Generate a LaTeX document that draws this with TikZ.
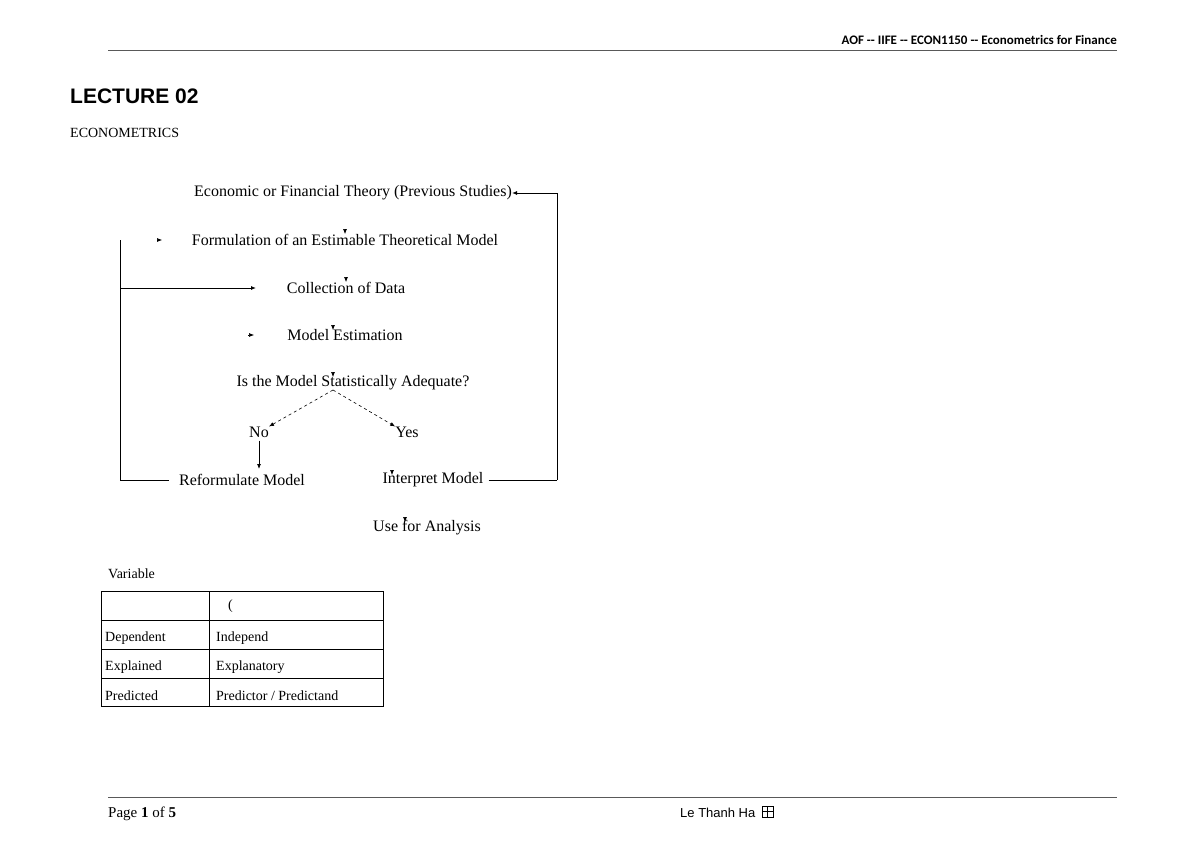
\documentclass[tikz,border=0pt]{standalone}
\usepackage{fontspec}
\setmainfont{Liberation Serif}
\newfontfamily\arialf{Liberation Sans}
\newfontfamily\calf{Carlito}
\usetikzlibrary{arrows.meta}
\tikzset{
 ft/.style={font=\fontsize{16}{18}\selectfont, inner sep=0pt},
 tb/.style={font=\fontsize{14}{16}\selectfont, inner sep=0pt, anchor=west},
 ln/.style={line width=0.9pt},
 arr/.style={ln,-{Latex[length=5pt,width=4pt]}},
 tip/.style={-{Latex[length=5pt,width=4pt]}, line width=0.6pt},
}
\begin{document}
\begin{tikzpicture}[x=1pt,y=-1pt]
\useasboundingbox (0,0) rectangle (1200,848);
\fill[white] (0,0) rectangle (1200,848);
% header
\coordinate (h1) at (108,50); \coordinate (h2) at (1117,50);
\draw[line width=0.8pt,gray!70!black] (h1) -- (h2);
\node[anchor=base east, inner sep=0pt, font=\calf\bfseries\fontsize{13}{15}\selectfont] (hdr) at (1117,45) {AOF -- IIFE -- ECON1150 -- Econometrics for Finance};
\node[anchor=base west, inner sep=0pt, font=\arialf\bfseries\fontsize{21}{24}\selectfont] (lec) at (70,104) {LECTURE 02};
\node[anchor=base west, inner sep=0pt, font=\fontsize{14}{16}\selectfont] (eco) at (70,138) {ECONOMETRICS};
% flowchart
\node[ft] (t1) at (353,193) {Economic or Financial Theory (Previous Studies)};
\node[ft] (t2) at (345,240) {Formulation of an Estimable Theoretical Model};
\node[ft] (t3) at (346,288) {Collection of Data};
\node[ft] (t4) at (345,335) {Model Estimation};
\node[ft] (t5) at (353,383) {Is the Model Statistically Adequate?};
\node[ft] (no) at (259,432) {No};
\node[ft] (yes) at (407,432) {Yes};
\node[ft] (ref) at (242,480) {Reformulate Model};
\node[ft] (int) at (433,480) {Interpret Model};
\node[ft] (use) at (427,528) {Use for Analysis};
% right loop
\coordinate (r1) at (557,480); \coordinate (r2) at (557,193);
\draw[ln] (int.east) ++(5,0) coordinate (ie) -- (r1);
\draw[arr] (r1) -- (r2) -- (t1.east);
% left loop
\coordinate (l1) at (120,240); \coordinate (l2) at (120,480); \coordinate (l3) at (120,288);
\coordinate (c3) at (256,288);
\draw[ln] (l1) -- (l2) -- ([xshift=-10pt]ref.west);
\draw[arr] (l3) -- (c3);
% tiny tips
\coordinate (a1) at (157,240); \coordinate (a2) at (162,240);
\draw[tip] (a1) -- (a2);
\coordinate (b1) at (248,335); \coordinate (b2) at (254,335);
\draw[tip] (b1) -- (b2);
\foreach \x/\y in {345/234, 346/282, 333/330, 333/377, 392/475, 405/522}{
  \coordinate (p) at (\x,\y-5); \coordinate (q) at (\x,\y);
  \draw[tip] (p) -- (q);
}
% decision
\coordinate (d0) at (333,390);
\draw[arr,dashed,line width=0.6pt] (d0) -- (no.north east);
\draw[arr,dashed,line width=0.6pt] (d0) -- (yes.north west);
\draw[arr] ([yshift=-3pt]no.south) -- ([yshift=5pt]no.south |- ref.north);
% table
\node[tb] (var) at (108,574) {Variable};
\draw[line width=1pt] (101,591) rectangle (383,706);
\foreach \y in {620,649,678}{\draw[line width=0.8pt] (101,\y) -- (383,\y);}
\draw[line width=0.8pt] (209,591) -- (209,706);
\node[tb] (par) at (228,606) {(};
\node[tb] (c11) at (105,638) {Dependent};
\node[tb] (c12) at (216,638) {Independ};
\node[tb] (c21) at (105,667) {Explained};
\node[tb] (c22) at (216,667) {Explanatory};
\node[tb] (c31) at (105,696) {Predicted};
\node[tb] (c32) at (216,696) {Predictor / Predictand};
% footer
\coordinate (f1) at (108,797); \coordinate (f2) at (1117,797);
\draw[line width=0.8pt,gray!70!black] (f1) -- (f2);
\node[anchor=base west, inner sep=0pt, font=\fontsize{15}{17}\selectfont] (pg) at (108,817) {Page \textbf{1} of \textbf{5}};
\node[anchor=base west, inner sep=0pt, font=\arialf\fontsize{13}{15}\selectfont] (auth) at (680,817) {Le Thanh Ha};
\draw[line width=0.6pt] (762,806) rectangle (773,817);
\draw[line width=0.5pt] (762,811.5) -- (773,811.5) (767.5,806) -- (767.5,817);
\end{tikzpicture}
\end{document}
